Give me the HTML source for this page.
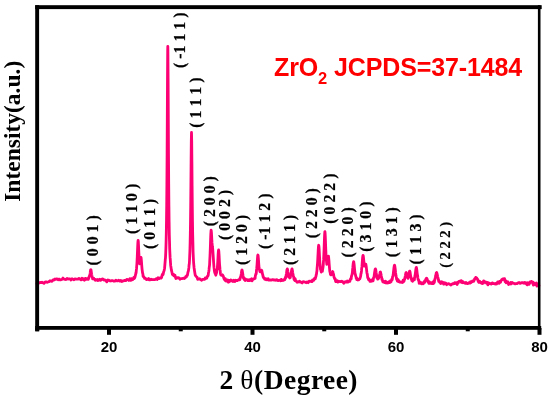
<!DOCTYPE html>
<html><head><meta charset="utf-8"><style>
html,body{margin:0;padding:0;background:#fff;}
body{width:550px;height:397px;overflow:hidden;}
svg{display:block;}
.hkl{font-family:"Liberation Serif","Times New Roman",serif;font-weight:bold;font-size:16.2px;text-anchor:middle;fill:#000;stroke:#000;stroke-width:0.2px;}
.tick{font-family:"Liberation Sans",Arial,sans-serif;font-weight:bold;font-size:15px;text-anchor:middle;fill:#000;}
.ttl{font-family:"Liberation Sans",Arial,sans-serif;font-weight:bold;font-size:25px;fill:#FF0000;}
.ax{font-family:"Liberation Serif","Times New Roman",serif;font-weight:bold;fill:#000;}
</style></head><body>
<svg width="550" height="397" viewBox="0 0 550 397">
<rect width="550" height="397" fill="#fff"/>
<polyline points="37.00,283.41 38.00,283.48 39.00,283.01 40.00,282.51 41.00,282.65 42.00,282.20 43.00,282.70 44.00,283.34 45.00,282.11 46.00,281.83 47.00,282.29 48.00,281.98 49.00,281.60 50.00,280.75 51.00,281.06 52.00,281.26 53.00,279.81 54.00,280.11 55.00,279.01 56.00,279.29 57.00,278.87 58.00,279.74 59.00,279.03 60.00,279.86 61.00,279.75 62.00,279.50 63.00,278.06 64.00,279.20 65.00,279.45 66.00,279.52 67.00,278.50 68.00,279.11 69.00,278.78 70.00,278.85 71.00,279.95 72.00,278.80 73.00,279.24 74.00,279.76 75.00,278.85 76.00,279.10 77.00,279.20 78.00,279.14 79.00,278.34 80.00,279.08 81.00,279.81 82.00,278.10 83.00,279.58 83.50,279.15 84.00,278.70 84.50,280.28 85.00,279.54 85.50,278.35 86.00,279.08 86.50,279.34 87.00,278.81 87.50,279.21 88.00,278.57 88.20,278.90 88.40,279.22 88.60,277.77 88.80,278.07 89.00,277.37 89.20,277.32 89.40,276.00 89.60,275.66 89.80,275.07 90.00,274.06 90.20,272.74 90.40,271.03 90.60,269.95 90.80,269.68 91.00,269.83 91.20,271.18 91.40,272.66 91.60,274.19 91.80,275.29 92.00,275.94 92.20,276.64 92.40,277.27 92.60,278.76 92.80,277.91 93.00,278.24 93.20,278.83 93.40,278.71 93.60,278.80 93.80,278.36 94.30,279.23 94.80,279.12 95.30,280.20 95.80,279.98 96.30,279.65 96.80,280.13 97.30,279.58 97.80,280.46 98.30,279.87 98.80,280.26 99.80,279.21 100.80,280.27 101.80,279.12 102.80,278.98 103.80,280.09 104.80,279.80 105.80,280.50 106.80,281.81 107.80,280.03 108.80,280.21 109.80,280.77 110.80,280.98 111.80,280.61 112.80,280.62 113.80,281.19 114.80,281.10 115.80,280.20 116.80,280.79 117.80,280.88 118.80,280.25 119.80,281.05 120.80,280.39 121.80,281.49 122.80,280.97 123.80,280.84 124.80,280.36 125.80,280.55 126.80,279.33 127.80,279.73 128.80,280.49 129.80,278.82 130.80,280.38 131.30,278.68 131.80,280.01 132.30,278.84 132.80,279.56 133.30,278.84 133.80,277.41 134.30,278.49 134.80,277.79 135.30,275.68 135.50,274.90 135.70,274.20 135.90,272.76 136.10,272.85 136.30,270.43 136.50,268.93 136.70,266.23 136.90,263.79 137.10,260.16 137.30,256.15 137.50,251.05 137.70,246.18 137.90,242.09 138.10,240.32 138.30,241.57 138.50,245.04 138.70,249.56 138.90,253.83 139.10,257.42 139.30,259.29 139.50,261.39 139.70,263.76 139.90,262.81 140.10,262.18 140.30,261.17 140.50,259.77 140.70,257.98 140.90,257.40 141.00,257.42 141.10,257.70 141.30,259.74 141.50,262.16 141.70,264.89 141.90,267.31 142.10,269.61 142.30,271.02 142.50,272.68 142.70,273.24 142.90,274.08 143.10,276.33 143.30,275.79 143.50,276.74 143.70,276.92 143.90,276.99 144.10,277.22 144.60,278.41 145.10,278.20 145.60,278.55 146.10,278.84 146.60,279.67 147.10,279.48 147.60,279.38 148.10,278.87 148.60,278.42 149.10,279.85 150.10,279.88 151.10,279.22 152.10,279.61 153.10,279.70 154.10,279.65 155.10,279.60 156.10,278.63 157.10,279.62 158.10,277.71 159.10,278.63 160.10,277.93 160.60,277.85 161.10,278.08 161.60,277.37 162.10,275.18 162.60,274.08 163.10,274.54 163.60,272.03 164.10,270.63 164.60,268.20 165.10,262.15 165.30,259.32 165.50,257.58 165.70,253.48 165.90,248.24 166.10,241.85 166.30,232.66 166.50,220.67 166.70,205.78 166.90,184.10 167.10,154.94 167.30,118.36 167.50,78.68 167.70,50.63 167.80,46.38 167.90,50.50 168.10,78.56 168.30,118.19 168.50,155.15 168.70,184.11 168.90,205.82 169.10,221.76 169.30,234.37 169.50,240.97 169.70,248.90 169.90,253.37 170.10,257.38 170.30,259.68 170.50,262.82 170.70,265.63 170.90,266.85 171.40,270.14 171.90,272.06 172.40,274.43 172.90,274.82 173.40,274.33 173.90,275.86 174.40,275.58 174.90,275.19 175.40,277.13 175.90,278.49 176.90,278.08 177.90,277.59 178.90,277.87 179.90,279.18 180.90,278.63 181.90,278.54 182.90,278.37 183.90,278.19 184.40,278.47 184.90,278.09 185.40,277.58 185.90,276.41 186.40,276.79 186.90,275.33 187.40,275.36 187.90,272.44 188.40,270.88 188.90,267.44 189.10,264.66 189.30,264.02 189.50,260.75 189.70,255.61 189.90,251.18 190.10,244.14 190.30,234.51 190.50,222.66 190.70,206.40 190.90,185.72 191.10,161.93 191.30,141.15 191.50,132.48 191.70,141.36 191.90,162.16 192.10,185.80 192.30,206.71 192.50,222.71 192.70,234.96 192.90,243.03 193.10,251.91 193.30,256.74 193.50,260.72 193.70,263.72 193.90,265.88 194.10,267.95 194.30,269.31 194.50,270.70 194.70,271.98 195.20,274.98 195.70,275.86 196.20,276.53 196.70,276.98 197.20,277.53 197.70,279.32 198.20,279.02 198.70,279.04 199.20,279.02 199.70,278.74 200.70,279.58 201.70,280.21 202.70,279.42 203.70,279.38 204.20,279.26 204.70,279.29 205.20,278.04 205.70,278.55 206.20,277.78 206.70,278.29 207.20,276.55 207.70,276.30 208.20,275.31 208.40,273.38 208.60,272.22 208.80,271.51 209.00,269.95 209.20,267.60 209.40,266.30 209.60,264.56 209.80,259.90 210.00,255.98 210.20,251.04 210.40,245.66 210.60,239.64 210.80,234.42 211.00,231.23 211.10,230.19 211.20,230.37 211.40,232.18 211.60,235.42 211.80,239.23 212.00,242.67 212.20,244.85 212.40,246.54 212.60,247.95 212.80,250.01 213.00,252.77 213.20,255.89 213.40,259.02 213.60,262.19 213.80,265.00 214.00,267.40 214.20,269.10 214.40,270.82 214.60,271.99 214.80,272.48 215.00,273.26 215.20,273.83 215.40,273.93 215.60,274.41 215.80,275.22 216.00,274.31 216.20,273.70 216.40,272.21 216.60,272.80 216.80,270.52 217.00,269.66 217.20,269.46 217.40,267.00 217.60,264.30 217.80,260.92 218.00,257.40 218.20,253.64 218.40,250.87 218.60,249.97 218.80,250.93 219.00,253.83 219.20,257.62 219.40,261.53 219.60,264.81 219.80,266.84 220.00,269.72 220.20,270.61 220.40,273.23 220.60,274.15 220.80,274.86 221.00,274.42 221.20,275.32 221.40,275.16 221.60,275.17 221.80,275.11 222.00,274.89 222.20,274.76 222.40,274.99 222.60,274.98 222.80,275.30 223.00,275.81 223.20,276.00 223.40,276.66 223.60,277.30 223.80,278.00 224.00,277.97 224.20,279.19 224.40,279.02 224.60,278.43 224.80,278.83 225.00,280.06 225.20,280.01 225.40,278.73 225.60,280.80 225.80,280.45 226.30,281.09 226.80,280.20 227.30,280.37 227.80,279.97 228.30,282.24 228.80,280.68 229.30,281.79 229.80,280.50 230.30,281.01 230.80,279.93 231.80,280.72 232.80,281.53 233.80,280.17 234.80,281.53 235.30,281.05 235.80,280.19 236.30,280.46 236.80,280.43 237.30,280.59 237.80,280.19 238.30,279.86 238.80,279.96 239.30,279.20 239.50,278.86 239.70,279.38 239.90,279.65 240.10,277.85 240.30,278.31 240.50,277.33 240.70,276.39 240.90,276.14 241.10,274.84 241.30,273.75 241.50,272.06 241.70,270.93 241.90,270.08 242.00,269.91 242.10,270.17 242.30,270.85 242.50,272.20 242.70,273.52 242.90,274.71 243.10,275.95 243.30,276.92 243.50,278.19 243.70,277.64 243.90,278.61 244.10,277.94 244.30,279.64 244.50,278.81 244.70,278.54 244.90,279.72 245.10,280.53 245.60,279.15 246.10,279.53 246.60,279.81 247.10,279.63 247.60,280.55 248.10,279.84 248.60,279.88 249.10,280.63 249.60,279.79 250.10,280.45 250.60,279.54 251.10,279.31 251.60,278.83 252.10,280.91 252.60,279.42 253.10,279.53 253.60,279.05 254.10,278.74 254.60,278.08 255.10,278.31 255.30,276.07 255.50,275.19 255.70,274.84 255.90,273.81 256.10,274.04 256.30,272.82 256.50,270.20 256.70,268.69 256.90,266.50 257.10,263.99 257.30,260.51 257.50,258.03 257.70,255.65 257.90,255.02 258.10,255.49 258.30,257.61 258.50,260.16 258.70,263.01 258.90,265.78 259.10,268.16 259.30,269.03 259.50,269.93 259.70,270.12 259.90,271.51 260.10,271.92 260.30,271.88 260.50,271.62 260.70,271.07 260.90,270.70 261.10,270.24 261.30,270.12 261.50,270.22 261.70,270.38 261.90,271.03 262.10,272.05 262.30,272.99 262.50,273.96 262.70,274.95 262.90,275.13 263.10,276.81 263.30,276.96 263.50,277.66 263.70,277.80 263.90,277.80 264.10,277.94 264.30,278.58 264.50,278.58 264.70,279.20 265.20,279.35 265.70,278.74 266.20,279.75 266.70,279.02 267.20,279.55 267.70,279.81 268.20,278.80 268.70,280.14 269.20,280.21 269.70,280.05 270.70,279.93 271.70,279.98 272.70,279.63 273.70,280.05 274.70,279.87 275.70,280.30 276.70,279.58 277.70,280.50 278.70,280.48 279.70,280.33 280.20,280.15 280.70,280.74 281.20,279.40 281.70,280.64 282.20,280.47 282.70,280.42 283.20,280.38 283.70,279.60 284.20,279.59 284.70,279.73 284.90,279.36 285.10,278.92 285.30,277.49 285.50,278.22 285.70,277.97 285.90,277.07 286.10,275.53 286.30,274.16 286.50,273.15 286.70,271.63 286.90,270.04 287.10,269.42 287.30,268.82 287.50,269.17 287.70,270.16 287.90,271.63 288.10,272.75 288.30,274.07 288.50,275.32 288.70,276.94 288.90,276.61 289.10,277.02 289.30,276.75 289.50,277.27 289.70,277.99 289.90,277.87 290.10,277.44 290.30,277.56 290.50,275.92 290.70,275.57 290.90,274.71 291.10,273.52 291.30,272.27 291.50,270.87 291.70,269.67 291.90,269.11 292.00,268.88 292.10,268.92 292.30,269.93 292.50,271.07 292.70,272.54 292.90,273.72 293.10,275.18 293.30,275.98 293.50,276.74 293.70,276.66 293.90,278.42 294.10,279.64 294.30,279.71 294.50,279.42 294.70,280.02 294.90,280.68 295.10,278.73 295.60,280.62 296.10,281.24 296.60,281.49 297.10,282.23 297.60,282.00 298.10,281.59 298.60,281.66 299.10,282.02 299.60,281.28 300.10,281.63 301.10,282.28 302.10,282.97 303.10,281.76 304.10,281.87 305.10,282.04 306.10,282.71 307.10,281.85 308.10,282.69 309.10,281.14 310.10,281.47 311.10,281.23 311.60,281.67 312.10,281.64 312.60,279.89 313.10,279.97 313.60,280.37 314.10,279.32 314.60,278.21 315.10,278.93 315.60,277.44 316.10,275.74 316.30,274.26 316.50,274.07 316.70,272.01 316.90,271.23 317.10,268.11 317.30,265.83 317.50,263.59 317.70,260.21 317.90,256.67 318.10,252.72 318.30,248.93 318.50,246.37 318.70,245.26 318.90,246.26 319.10,248.56 319.30,252.01 319.50,255.89 319.70,259.49 319.90,262.49 320.10,264.82 320.30,266.95 320.50,269.36 320.70,269.61 320.90,270.05 321.10,271.39 321.30,272.04 321.50,271.53 321.70,271.10 321.90,271.10 322.40,271.18 322.60,269.44 322.80,268.64 323.00,267.33 323.20,265.61 323.40,262.55 323.60,259.91 323.80,255.61 324.00,250.98 324.20,245.52 324.40,240.17 324.60,235.11 324.80,232.05 324.90,231.66 325.00,232.02 325.20,234.92 325.40,239.35 325.60,244.79 325.80,249.96 326.00,254.65 326.20,258.35 326.40,260.26 326.60,262.48 326.80,264.27 327.00,263.18 327.20,262.93 327.40,262.19 327.60,260.69 327.80,259.01 328.00,257.19 328.20,256.31 328.40,256.11 328.60,256.99 328.80,259.05 329.00,261.32 329.20,264.35 329.40,266.78 329.60,269.26 329.80,271.24 330.00,272.08 330.20,272.38 330.40,274.42 330.60,274.29 330.80,274.84 331.00,274.76 331.20,274.81 331.40,273.34 331.60,274.42 331.80,273.73 332.00,273.18 332.20,272.65 332.40,271.91 332.60,271.46 332.70,271.59 332.80,271.68 333.00,272.28 333.20,273.15 333.40,273.85 333.60,275.11 333.80,275.81 334.00,277.01 334.20,277.50 334.40,278.00 334.60,278.67 334.80,278.83 335.00,279.15 335.20,278.80 335.40,280.04 335.60,281.37 335.80,281.62 336.30,281.54 336.80,281.40 337.30,280.74 337.80,282.15 338.30,281.35 338.80,281.43 339.30,281.36 339.80,281.64 340.30,281.38 340.80,281.65 341.80,281.15 342.80,281.64 343.80,283.26 344.80,281.86 345.80,281.71 346.30,282.13 346.80,282.17 347.30,280.99 347.80,281.42 348.30,281.93 348.80,281.32 349.30,280.93 349.80,281.37 350.30,279.43 350.80,279.00 351.00,278.17 351.20,278.82 351.40,276.09 351.60,276.07 351.80,275.20 352.00,274.77 352.20,273.38 352.40,272.25 352.60,269.38 352.80,267.64 353.00,265.45 353.20,263.54 353.40,262.36 353.60,261.69 353.80,262.03 354.00,263.54 354.20,265.24 354.40,267.38 354.60,269.51 354.80,271.32 355.00,273.81 355.20,274.07 355.40,274.38 355.60,275.77 355.80,276.43 356.00,276.88 356.20,278.38 356.40,278.16 356.60,277.70 356.80,279.59 357.30,279.54 357.80,279.97 358.30,279.77 358.80,279.84 359.30,279.01 359.80,278.96 360.30,277.30 360.50,276.66 360.70,275.91 360.90,273.89 361.10,273.57 361.30,272.21 361.50,270.92 361.70,268.12 361.90,266.96 362.10,264.32 362.30,261.54 362.50,258.92 362.70,256.95 362.90,255.65 363.00,255.32 363.10,255.44 363.30,256.20 363.50,257.96 363.70,259.78 363.90,261.80 364.10,263.57 364.30,266.21 364.50,264.81 364.70,265.65 364.90,265.48 365.10,265.26 365.30,264.48 365.50,264.12 365.70,264.12 365.80,264.19 365.90,264.53 366.10,265.71 366.30,267.06 366.50,268.90 366.70,270.78 366.90,272.48 367.10,273.79 367.30,274.07 367.50,275.90 367.70,277.51 367.90,278.06 368.10,278.25 368.30,278.23 368.50,279.51 368.70,279.09 368.90,278.99 369.40,279.65 369.90,281.27 370.40,280.69 370.90,281.31 371.40,280.29 371.90,280.99 372.40,279.78 372.90,279.50 373.10,280.76 373.30,279.32 373.50,278.05 373.70,277.65 373.90,277.11 374.10,276.69 374.30,274.77 374.50,273.32 374.70,272.08 374.90,270.73 375.10,269.58 375.30,269.05 375.40,268.84 375.50,268.98 375.70,269.41 375.90,270.78 376.10,272.30 376.30,273.52 376.50,274.72 376.70,275.88 376.90,277.77 377.10,276.86 377.30,277.91 377.50,278.67 377.70,279.11 377.90,278.55 378.10,279.03 378.30,278.58 378.50,278.60 378.70,278.09 378.90,276.98 379.10,277.00 379.30,276.32 379.50,275.16 379.70,274.24 379.90,273.36 380.10,272.35 380.30,272.06 380.40,271.87 380.50,272.23 380.70,272.93 380.90,273.83 381.10,274.67 381.30,275.93 381.50,276.93 381.70,277.94 381.90,279.62 382.10,278.59 382.30,280.58 382.50,280.38 382.70,281.63 382.90,281.20 383.10,280.93 383.30,281.69 383.50,282.13 384.00,282.01 384.50,282.49 385.00,282.03 385.50,281.14 386.00,283.01 386.50,282.92 387.00,282.59 387.50,282.50 388.00,283.02 388.50,282.04 389.00,281.76 389.50,281.91 390.00,282.52 390.50,280.67 391.00,281.79 391.50,280.07 392.00,278.81 392.20,279.69 392.40,278.23 392.60,276.72 392.80,276.34 393.00,275.99 393.20,274.83 393.40,272.54 393.60,270.95 393.80,269.22 394.00,267.37 394.20,266.13 394.40,265.30 394.50,265.14 394.60,265.24 394.80,266.07 395.00,267.41 395.20,269.01 395.40,270.77 395.60,272.63 395.80,274.12 396.00,275.83 396.20,277.13 396.40,277.68 396.60,279.46 396.80,278.23 397.00,279.73 397.20,279.48 397.40,281.14 397.60,281.33 398.10,279.67 398.60,280.61 399.10,281.86 399.60,282.13 400.10,282.24 400.60,281.85 401.10,282.22 401.60,282.35 402.10,281.87 402.60,282.44 403.10,280.27 403.60,281.64 403.80,280.42 404.00,281.32 404.20,280.24 404.40,279.36 404.60,279.51 404.80,277.99 405.00,277.53 405.20,276.39 405.40,275.41 405.60,274.30 405.80,273.36 406.00,272.59 406.10,272.63 406.20,272.54 406.40,273.01 406.60,273.96 406.80,275.02 407.00,275.83 407.20,276.67 407.40,277.23 407.60,277.78 407.80,277.35 408.00,278.43 408.20,277.26 408.40,277.21 408.60,276.02 408.80,275.14 409.00,273.95 409.20,272.64 409.40,271.89 409.60,271.10 409.70,271.21 409.80,271.23 410.00,271.75 410.20,272.94 410.40,274.40 410.60,275.70 410.80,276.91 411.00,277.76 411.20,277.70 411.40,279.32 411.60,278.65 411.80,280.60 412.00,280.23 412.20,280.44 412.40,280.86 412.60,281.22 412.80,280.22 413.30,279.84 413.80,279.69 414.00,278.74 414.20,278.91 414.40,279.84 414.60,277.49 414.80,277.57 415.00,275.20 415.20,274.69 415.40,273.04 415.60,271.36 415.80,269.75 416.00,268.50 416.20,267.52 416.30,267.42 416.40,267.41 416.60,268.45 416.80,269.81 417.00,271.68 417.20,273.34 417.40,275.20 417.60,275.24 417.80,277.47 418.00,279.19 418.20,279.29 418.40,279.70 418.60,280.58 418.80,280.37 419.00,281.64 419.20,283.34 419.40,282.82 419.90,281.96 420.40,282.40 420.90,282.86 421.40,283.83 421.90,282.80 422.40,282.89 422.90,283.80 423.40,283.68 423.90,282.72 424.10,282.14 424.30,281.71 424.50,282.01 424.70,280.82 424.90,282.28 425.10,281.06 425.30,281.03 425.50,280.67 425.70,280.02 425.90,279.17 426.10,278.90 426.30,278.57 426.50,278.21 426.70,278.32 426.90,278.77 427.10,279.10 427.30,280.04 427.50,280.13 427.70,280.81 427.90,281.24 428.10,281.65 428.30,282.21 428.50,282.53 428.70,282.45 428.90,283.43 429.10,281.59 429.30,282.98 429.50,282.62 429.70,283.19 430.20,283.32 430.70,282.65 431.20,282.78 431.70,283.56 432.20,283.16 432.70,282.33 433.20,283.65 433.70,283.33 433.90,280.81 434.10,281.55 434.30,282.50 434.50,281.02 434.70,280.15 434.90,279.26 435.10,278.33 435.30,277.67 435.50,276.78 435.70,275.90 435.90,274.70 436.10,273.71 436.30,272.85 436.50,272.55 436.60,272.39 436.70,272.54 436.90,273.11 437.10,273.81 437.30,274.81 437.50,275.84 437.70,276.84 437.90,277.71 438.10,278.46 438.30,279.83 438.50,279.36 438.70,281.35 438.90,281.01 439.10,280.91 439.30,281.38 439.50,281.53 439.70,282.26 440.20,282.14 440.70,283.54 441.20,282.58 441.70,281.83 442.20,282.86 442.70,282.18 443.20,283.42 443.70,284.13 444.20,283.92 444.70,282.76 445.70,283.13 446.70,284.67 447.70,283.79 448.70,283.60 449.70,284.21 450.70,285.03 451.70,284.31 452.70,283.59 453.20,283.70 453.70,283.84 454.20,283.08 454.70,282.78 455.20,283.41 455.70,282.77 456.20,283.24 456.70,283.24 457.20,284.44 457.40,282.44 457.60,282.78 457.80,282.65 458.00,282.88 458.20,283.09 458.40,282.01 458.60,281.63 458.80,281.74 459.00,281.63 459.20,281.63 459.40,281.41 459.60,281.16 459.80,281.17 459.90,281.20 460.00,281.26 460.20,281.18 460.40,281.32 460.60,281.27 460.80,281.51 461.00,282.01 461.20,280.67 461.40,281.94 461.60,282.41 461.80,282.18 462.00,282.03 462.20,282.57 462.40,282.68 462.60,282.69 462.80,281.66 463.00,282.73 463.50,282.35 464.00,282.55 464.50,283.00 465.00,283.24 465.50,283.37 466.00,282.50 466.50,283.35 467.00,283.49 467.50,283.45 468.00,283.58 469.00,282.60 469.50,282.54 470.00,283.09 470.50,281.72 471.00,282.58 471.50,282.02 472.00,281.94 472.50,280.86 473.00,280.99 473.50,280.99 473.70,281.28 473.90,281.07 474.10,280.12 474.30,279.73 474.50,279.00 474.70,279.39 474.90,278.76 475.10,278.52 475.30,278.35 475.50,277.88 475.70,277.52 475.90,277.51 476.00,277.43 476.10,277.47 476.30,277.87 476.50,277.94 476.70,277.99 476.90,278.57 477.10,278.99 477.30,278.98 477.50,279.16 477.70,279.71 477.90,280.42 478.10,280.94 478.30,281.56 478.50,281.84 478.70,282.06 478.90,282.37 479.10,282.14 479.60,281.19 480.10,282.29 480.60,282.73 481.10,282.43 481.60,283.27 482.10,282.53 482.30,282.19 482.50,283.59 482.70,283.10 482.90,282.79 483.10,283.17 483.30,283.19 483.50,282.69 483.70,280.93 483.90,282.23 484.10,282.17 484.30,282.02 484.50,282.10 484.70,282.16 484.90,281.94 485.00,281.86 485.10,282.25 485.30,282.00 485.50,281.98 485.70,282.25 485.90,282.38 486.10,282.36 486.30,283.03 486.50,282.37 486.70,282.20 486.90,282.95 487.10,283.38 487.30,282.61 487.50,283.24 487.70,283.03 487.90,284.82 488.10,282.74 488.60,284.05 489.10,283.23 489.60,283.21 490.10,283.73 490.60,283.84 491.10,284.07 491.60,283.50 492.10,282.94 492.60,282.97 493.10,283.59 494.10,283.61 495.10,284.05 495.60,283.43 496.10,283.77 496.60,283.99 497.10,283.11 497.60,282.02 498.10,282.07 498.60,281.74 499.10,283.31 499.60,281.54 500.10,282.39 500.30,281.82 500.50,282.30 500.70,281.67 500.90,280.79 501.10,280.50 501.30,280.43 501.50,280.25 501.70,279.60 501.90,279.69 502.10,279.68 502.30,279.10 502.50,279.19 502.70,278.95 502.90,279.03 503.00,279.10 503.10,279.00 503.30,279.15 503.50,278.96 503.70,279.43 503.90,279.40 504.10,279.75 504.30,280.01 504.50,278.57 504.70,279.91 504.90,280.72 505.10,281.75 505.30,281.21 505.50,281.40 505.70,280.59 505.90,282.47 506.10,282.87 506.60,282.16 507.10,282.29 507.60,281.66 508.10,283.32 508.60,284.53 509.10,283.43 509.60,283.82 510.10,283.43 510.60,282.56 511.10,283.98 512.10,282.48 513.10,283.13 514.10,283.44 515.10,283.82 516.10,283.55 517.10,283.53 518.10,282.85 519.10,282.53 520.10,283.34 521.10,282.95 522.10,282.66 523.10,282.75 524.10,283.28 524.60,282.49 525.10,282.82 525.60,282.67 526.10,283.79 526.60,283.94 527.10,284.90 527.60,282.78 528.10,283.23 528.60,284.07 528.80,283.31 529.00,283.16 529.20,284.26 529.40,282.90 529.60,282.25 529.80,281.98 530.00,282.77 530.20,282.40 530.40,281.99 530.60,281.84 530.80,281.85 531.00,281.73 531.20,281.53 531.30,281.67 531.40,281.69 531.60,281.49 531.80,281.82 532.00,282.10 532.20,282.21 532.40,282.26 532.60,282.58 532.80,283.43 533.00,284.13 533.20,282.06 533.40,285.10 533.60,283.00 533.80,284.37 534.00,284.64 534.20,284.57 534.40,284.14 534.90,283.49 535.40,284.65 535.90,283.91 536.40,282.89 536.90,286.15 537.40,284.92 537.90,285.64 538.40,284.04 538.90,285.51" fill="none" stroke="#FC0074" stroke-width="2.8" stroke-linejoin="round" stroke-linecap="round"/>
<!-- frame -->
<rect x="35.2" y="5.2" width="506.5" height="3.9" fill="#000"/>
<rect x="35.2" y="5.2" width="3.9" height="326" fill="#000"/>
<rect x="537.9" y="5.2" width="2.6" height="325" fill="#000"/>
<rect x="35.2" y="326" width="506" height="3.8" fill="#000"/>
<rect x="107.00" y="328" width="4" height="6.8" fill="#000"/><rect x="250.50" y="328" width="4" height="6.8" fill="#000"/><rect x="394.00" y="328" width="4" height="6.8" fill="#000"/><rect x="537.50" y="328" width="4" height="6.8" fill="#000"/><rect x="35.25" y="328" width="4" height="3.3" fill="#000"/><rect x="178.75" y="328" width="4" height="3.3" fill="#000"/><rect x="322.25" y="328" width="4" height="3.3" fill="#000"/><rect x="465.75" y="328" width="4" height="3.3" fill="#000"/>
<text class="tick" x="109.00" y="351.8">20</text><text class="tick" x="252.50" y="351.8">40</text><text class="tick" x="396.00" y="351.8">60</text><text class="tick" x="539.50" y="351.8">80</text>
<text class="hkl" transform="translate(97.6,240.3) rotate(-90) scale(0.980,1.000)">( 0 0 1 )</text>
<text class="hkl" transform="translate(137.2,208.9) rotate(-90) scale(0.980,1.000)">( 1 1 0 )</text>
<text class="hkl" transform="translate(154.5,224.0) rotate(-90) scale(0.980,1.000)">( 0 1 1 )</text>
<text class="hkl" transform="translate(184.6,40.3) rotate(-90) scale(0.980,1.000)">( -1 1 1 )</text>
<text class="hkl" transform="translate(201.0,102.6) rotate(-90) scale(0.980,1.000)">( 1 1 1 )</text>
<text class="hkl" transform="translate(214.5,201.2) rotate(-90) scale(0.980,1.000)">( 2 0 0 )</text>
<text class="hkl" transform="translate(230.0,215.0) rotate(-90) scale(0.980,1.000)">( 0 0 2 )</text>
<text class="hkl" transform="translate(247.0,240.0) rotate(-90) scale(0.980,1.000)">( 1 2 0 )</text>
<text class="hkl" transform="translate(269.6,221.2) rotate(-90) scale(0.980,1.000)">( -1 1 2 )</text>
<text class="hkl" transform="translate(295.0,240.0) rotate(-90) scale(0.980,1.000)">( 2 1 1 )</text>
<text class="hkl" transform="translate(317.0,213.2) rotate(-90) scale(0.980,1.000)">( 2 2 0 )</text>
<text class="hkl" transform="translate(334.5,198.6) rotate(-90) scale(0.980,1.000)">( 0 2 2 )</text>
<text class="hkl" transform="translate(352.5,232.3) rotate(-90) scale(0.980,1.000)">( 2 2 0 )</text>
<text class="hkl" transform="translate(371.0,226.6) rotate(-90) scale(0.980,1.000)">( 3 1 0 )</text>
<text class="hkl" transform="translate(396.5,232.2) rotate(-90) scale(0.980,1.000)">( 1 3 1 )</text>
<text class="hkl" transform="translate(421.0,239.5) rotate(-90) scale(0.980,1.000)">( 1 1 3 )</text>
<text class="hkl" transform="translate(450.0,244.9) rotate(-90) scale(0.897,0.915)">( 2 2 2 )</text>
<text class="ttl" x="274" y="76" letter-spacing="-0.12">ZrO<tspan font-size="16.5" dy="7.6">2</tspan><tspan dy="-7.6"> JCPDS=37-1484</tspan></text>
<text class="ax" font-size="27.5" x="219.5" y="388.8">2 <tspan font-weight="normal">θ</tspan><tspan dx="0.8" letter-spacing="0.45">(Degree)</tspan></text>
<text class="ax" font-size="23.5" transform="translate(20.2,201.8) rotate(-90)">Intensity(a.u.)</text>
</svg>
</body></html>
